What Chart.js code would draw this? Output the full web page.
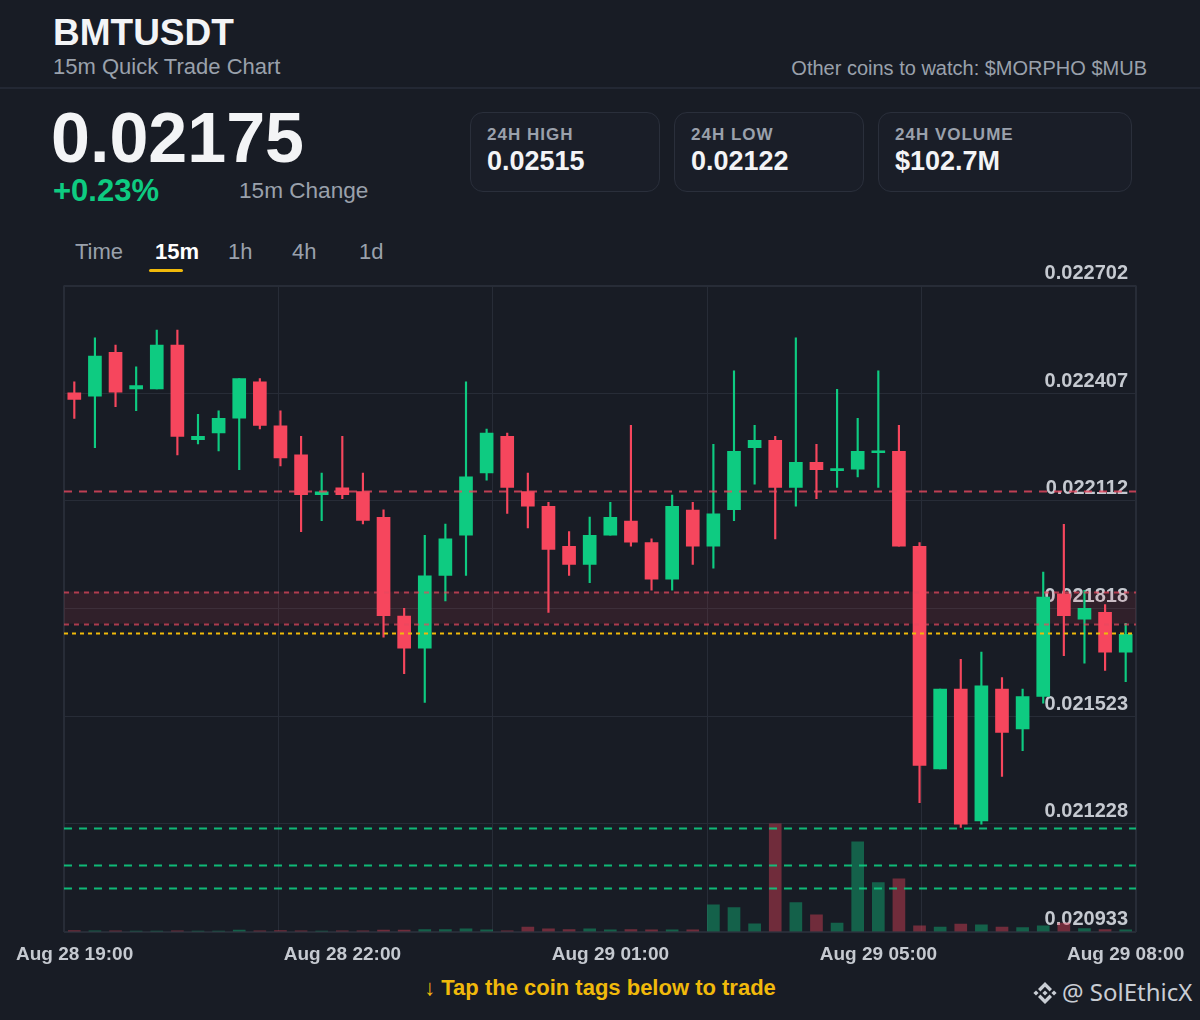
<!DOCTYPE html>
<html>
<head>
<meta charset="utf-8">
<script src="https://cdn.jsdelivr.net/npm/chart.js@4.4.1/dist/chart.umd.min.js"></script>
<style>
  html, body { margin:0; padding:0; background:#181c25; }
  body { width:1200px; height:1020px; position:relative; overflow:hidden; font-family:"Liberation Sans", Arial, sans-serif; color:#f3f4f6; }
  .t { position:absolute; line-height:1; white-space:nowrap; }
  .muted { color:#9aa1ac; }
  .box { position:absolute; top:112px; height:78px; border:1.5px solid #2a2f3b; border-radius:13px; background:#1a1e28; }
  .box .lbl { position:absolute; left:16px; top:13px; font-size:17px; font-weight:bold; letter-spacing:1px; color:#9aa1ac; line-height:1; }
  .box .val { position:absolute; left:16px; top:35px; font-size:27px; font-weight:bold; color:#f3f4f6; line-height:1; }
  .tab { position:absolute; top:241px; font-size:22px; line-height:1; color:#9aa1ac; }
  .xl { position:absolute; top:944px; font-size:19px; font-weight:bold; color:#c5c9d0; line-height:1; white-space:nowrap; }
</style>
</head>
<body>
<div class="t" style="left:53px; top:14px; font-size:37px; font-weight:bold;">BMTUSDT</div>
<div class="t muted" style="left:53px; top:56px; font-size:22px;">15m Quick Trade Chart</div>
<div class="t muted" style="right:53px; top:58px; font-size:20px;">Other coins to watch: $MORPHO $MUB</div>
<div style="position:absolute; left:0; top:87px; width:1200px; height:2px; background:#232834;"></div>

<div class="t" style="left:51px; top:103px; font-size:70px; font-weight:bold;">0.02175</div>
<div class="t" style="left:53px; top:175px; font-size:31px; font-weight:bold; color:#0ecb81;">+0.23%</div>
<div class="t muted" style="left:239px; top:180px; font-size:22.6px;">15m Change</div>

<div class="box" style="left:470px; width:188px;"><div class="lbl">24H HIGH</div><div class="val">0.02515</div></div>
<div class="box" style="left:674px; width:188px;"><div class="lbl">24H LOW</div><div class="val">0.02122</div></div>
<div class="box" style="left:878px; width:252px;"><div class="lbl">24H VOLUME</div><div class="val">$102.7M</div></div>

<div class="tab" style="left:75px;">Time</div>
<div class="tab" style="left:155px; color:#ffffff; font-weight:bold;">15m</div>
<div class="tab" style="left:228px;">1h</div>
<div class="tab" style="left:292px;">4h</div>
<div class="tab" style="left:359px;">1d</div>
<div style="position:absolute; left:149px; top:269px; width:34px; height:3px; border-radius:2px; background:#f0b90b;"></div>

<div style="position:absolute; left:0; top:260px; width:1200px; height:690px;">
  <canvas id="chart" width="1200" height="690"></canvas>
</div>

<div id="xlabels"></div>

<div class="t" style="left:0; width:1200px; text-align:center; top:977px; font-size:22px; font-weight:bold; color:#f0b90b;">↓ Tap the coin tags below to trade</div>

<svg style="position:absolute; left:1032px; top:980px;" width="26" height="26" viewBox="0 0 26 26">
  <g fill="#c9cdd4">
    <polygon points="13,2 20,9 17.6,11.4 13,6.8 8.4,11.4 6,9"/>
    <polygon points="13,24 20,17 17.6,14.6 13,19.2 8.4,14.6 6,17"/>
    <polygon points="4,10.4 6.6,13 4,15.6 1.4,13"/>
    <polygon points="22,10.4 24.6,13 22,15.6 19.4,13"/>
    <polygon points="13,10.4 15.6,13 13,15.6 10.4,13"/>
  </g>
</svg>
<div class="t" style="left:1062px; top:980px; font-size:24px; font-family:'Noto Sans', sans-serif; color:#c9cdd4;">@ SolEthicX</div>

<script>
// 15m candles, Aug 28 19:00 -> Aug 29 07:45
const times = [
  '19:00','19:15','19:30','19:45','20:00','20:15','20:30','20:45','21:00','21:15',
  '21:30','21:45','22:00','22:15','22:30','22:45','23:00','23:15','23:30','23:45',
  '00:00','00:15','00:30','00:45','01:00','01:15','01:30','01:45','02:00','02:15',
  '02:30','02:45','03:00','03:15','03:30','03:45','04:00','04:15','04:30','04:45',
  '05:00','05:15','05:30','05:45','06:00','06:15','06:30','06:45','07:00','07:15',
  '07:30','07:45'
];

const opens = [
  0.022408, 0.022399, 0.022519, 0.022419, 0.022419, 0.022539, 0.022280, 0.022298, 0.022339, 0.022438,
  0.022318, 0.022238, 0.022129, 0.022148, 0.022138, 0.022067, 0.021797, 0.021709, 0.021908, 0.022018,
  0.022189, 0.022289, 0.022138, 0.022097, 0.021988, 0.021938, 0.022018, 0.022057, 0.021998, 0.021898,
  0.022087, 0.021988, 0.022088, 0.022258, 0.022278, 0.022149, 0.022218, 0.022195, 0.022199, 0.022244,
  0.022248, 0.021988, 0.021378, 0.021597, 0.021236, 0.021597, 0.021488, 0.021577, 0.021858, 0.021788,
  0.021807, 0.021698
];
const highs = [
  0.022438, 0.022559, 0.022539, 0.022479, 0.022580, 0.022580, 0.022349, 0.022359, 0.022447, 0.022447,
  0.022359, 0.022289, 0.022188, 0.022289, 0.022188, 0.022088, 0.021818, 0.022018, 0.022049, 0.022438,
  0.022309, 0.022298, 0.022188, 0.022108, 0.022028, 0.022068, 0.022108, 0.022319, 0.022008, 0.022128,
  0.022108, 0.022267, 0.022468, 0.022319, 0.022289, 0.022559, 0.022267, 0.022418, 0.022338, 0.022468,
  0.022319, 0.021998, 0.021597, 0.021678, 0.021698, 0.021628, 0.021597, 0.021917, 0.022048, 0.021867,
  0.021828, 0.021777
];
const lows = [
  0.022338, 0.022258, 0.022370, 0.022359, 0.022419, 0.022238, 0.022268, 0.022249, 0.022198, 0.022309,
  0.022208, 0.022028, 0.022058, 0.022118, 0.022049, 0.021739, 0.021639, 0.021560, 0.021838, 0.021908,
  0.022169, 0.022078, 0.022038, 0.021807, 0.021908, 0.021888, 0.022018, 0.021988, 0.021868, 0.021868,
  0.021938, 0.021928, 0.022058, 0.022158, 0.022008, 0.022098, 0.022118, 0.022149, 0.022178, 0.022149,
  0.021988, 0.021286, 0.021378, 0.021218, 0.021227, 0.021358, 0.021428, 0.021558, 0.021688, 0.021668,
  0.021648, 0.021617
];
const closes = [
  0.022390, 0.022509, 0.022410, 0.022428, 0.022539, 0.022289, 0.022289, 0.022338, 0.022447, 0.022319,
  0.022230, 0.022129, 0.022137, 0.022129, 0.022059, 0.021798, 0.021709, 0.021907, 0.022008, 0.022178,
  0.022298, 0.022149, 0.022098, 0.021979, 0.021938, 0.022018, 0.022067, 0.021999, 0.021898, 0.022097,
  0.021988, 0.022077, 0.022248, 0.022278, 0.022149, 0.022218, 0.022198, 0.022197, 0.022248, 0.022247,
  0.021988, 0.021388, 0.021597, 0.021227, 0.021606, 0.021478, 0.021576, 0.021849, 0.021798, 0.021818,
  0.021698, 0.021747
];
// volume in K USDT
const volumes = [
  40, 28, 28, 16, 16, 28, 16, 16, 52, 28,
  40, 28, 16, 28, 28, 52, 52, 80, 80, 108,
  68, 28, 172, 108, 80, 108, 68, 80, 68, 68,
  68, 1068, 960, 308, 4308, 1160, 668, 332, 3588, 1960,
  2108, 228, 172, 292, 268, 172, 160, 228, 332, 120,
  80, 68
];

const yTicks = [0.020933, 0.021228, 0.021523, 0.021818, 0.022112, 0.022407, 0.022702];
const xTickLabels = ['Aug 28 19:00', 'Aug 28 22:00', 'Aug 29 01:00', 'Aug 29 05:00', 'Aug 29 08:00'];
const xTickIndex = [0, 13, 26, 39, 52];

const lastPrice = 0.02175;
const resistance = 0.022138;
const resistanceZone = [0.021776, 0.021864];
const supports = [0.021217, 0.0211156, 0.0210525];

const UP = '#0ecb81', DOWN = '#f6465d';
const GRID = '#272c37';

const isUp = closes.map((c, i) => c >= opens[i]);
const candleColors = isUp.map(u => u ? UP : DOWN);
const volColors = isUp.map(u => u ? 'rgba(14,203,129,0.4)' : 'rgba(246,70,93,0.4)');

const levelsPlugin = {
  id: 'levels',
  beforeDatasetsDraw(chart) {
    const { ctx, chartArea: a, scales: { y } } = chart;
    const top = y.getPixelForValue(resistanceZone[1]);
    const bot = y.getPixelForValue(resistanceZone[0]);
    ctx.save();
    ctx.fillStyle = 'rgba(246,70,93,0.11)';
    ctx.fillRect(a.left, top, a.right - a.left, bot - top);
    ctx.restore();
  },
  afterDatasetsDraw(chart) {
    const { ctx, chartArea: a, scales: { y } } = chart;
    const line = (v, color, dash) => {
      const py = Math.round(y.getPixelForValue(v)) + 0.5;
      ctx.save();
      ctx.strokeStyle = color;
      ctx.lineWidth = 2;
      ctx.setLineDash(dash);
      ctx.beginPath();
      ctx.moveTo(a.left, py);
      ctx.lineTo(a.right, py);
      ctx.stroke();
      ctx.restore();
    };
    line(resistance, 'rgba(232,72,95,0.8)', [8, 7]);
    resistanceZone.forEach(v => line(v, 'rgba(232,72,95,0.7)', [5, 5]));
    line(lastPrice, '#f0b90b', [4, 4]);
    supports.forEach(v => line(v, 'rgba(14,203,129,0.9)', [8, 7]));
  }
};

Chart.defaults.font.family = '"Liberation Sans", Arial, sans-serif';

const chart = new Chart(document.getElementById('chart'), {
  type: 'bar',
  data: {
    labels: times,
    datasets: [
      {
        label: 'Volume',
        data: volumes,
        yAxisID: 'yv',
        xAxisID: 'x',
        backgroundColor: volColors,
        barThickness: 12,
        grouped: false,
        order: 3
      },
      {
        label: 'Wick',
        data: lows.map((l, i) => [l, highs[i]]),
        yAxisID: 'y',
        xAxisID: 'x',
        backgroundColor: candleColors,
        barThickness: 1.5,
        grouped: false,
        order: 2
      },
      {
        label: 'Body',
        data: opens.map((o, i) => [o, closes[i]]),
        yAxisID: 'y',
        xAxisID: 'x',
        backgroundColor: candleColors,
        barThickness: 13,
        minBarLength: 2,
        grouped: false,
        order: 1
      }
    ]
  },
  options: {
    responsive: false,
    animation: false,
    devicePixelRatio: 1,
    layout: { padding: { left: 64, right: 64, top: 25.5, bottom: 18.5 } },
    plugins: { legend: { display: false }, tooltip: { enabled: false } },
    scales: {
      x: { type: 'category', display: false, offset: true },
      xg: {
        type: 'linear', min: 0, max: 5, position: 'bottom', offset: false,
        ticks: { display: false, stepSize: 1 },
        grid: { offset: false, color: GRID, drawTicks: false, lineWidth: c => (c.index === 0 || c.index === 5) ? 2 : 1 },
        border: { display: false }
      },
      y: {
        type: 'linear', position: 'right',
        min: yTicks[0], max: yTicks[yTicks.length - 1],
        afterBuildTicks: s => { s.ticks = yTicks.map(v => ({ value: v })); },
        afterFit: s => { s.width = 0; },
        ticks: {
          mirror: true, padding: -8, labelOffset: -12,
          color: '#c5c9d0', font: { size: 20, weight: 'bold' },
          callback: v => Number(v).toFixed(6)
        },
        grid: { color: GRID, drawTicks: false, lineWidth: c => (c.index === 0 || c.index === yTicks.length - 1) ? 2 : 1 },
        border: { display: false }
      },
      yv: { type: 'linear', display: false, min: 0, max: Math.max(...volumes) * 6 }
    }
  },
  plugins: [levelsPlugin]
});

// time labels under the chart, centred on their candle slot and kept inside the page
const holder = document.getElementById('xlabels');
xTickLabels.forEach((txt, k) => {
  const el = document.createElement('div');
  el.className = 'xl';
  el.textContent = txt;
  holder.appendChild(el);
  const w = el.offsetWidth;
  const cx = chart.scales.x.getPixelForValue(xTickIndex[k]);
  el.style.left = Math.max(16, Math.min(1184 - w, cx - w / 2)) + 'px';
});
</script>
</body>
</html>
